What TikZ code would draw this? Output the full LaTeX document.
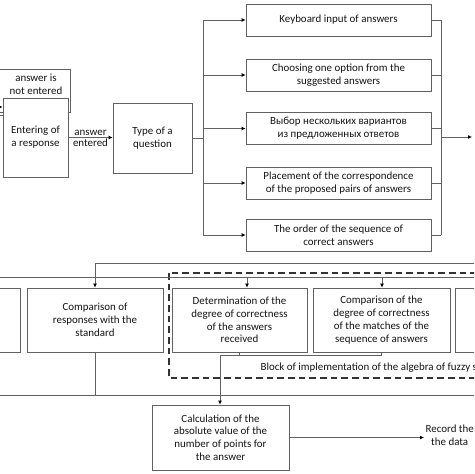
\documentclass[tikz,border=0pt]{standalone}
\usepackage{fontspec}
\setmainfont{Carlito}
\usepackage{tikz}
\usetikzlibrary{arrows.meta}
\definecolor{linegray}{gray}{0.38}
\definecolor{textgray}{gray}{0.08}
\tikzstyle{arrow}=[draw=linegray, line width=0.6pt, >={Latex[length=3pt,width=3pt,black]}]
\tikzstyle{box}=[draw=linegray, line width=0.6pt, fill=white, align=center, inner sep=0pt, text=textgray]
\tikzstyle{lbl}=[align=center, inner sep=1pt, text=textgray]
\tikzstyle{fuzzyblock}=[draw=black!80, line width=1.1pt, dash pattern=on 5pt off 3pt]

\begin{document}
\begin{tikzpicture}[x=0.75pt, y=-0.75pt, font=\fontsize{8.2}{9.6}\selectfont]
		   \useasboundingbox (0,0) rectangle (474,474);
		   \clip (0,0) rectangle (474,474);
		   % feedback loop of the missing answer
		   \draw[arrow, fill=white] (-30,69) rectangle (70,112);
		   \node[lbl] (nae) at (36,84.5) {answer is\\not entered};
		   \node[box, minimum width=48.75pt, minimum height=59.25pt] (enter) at (35.5,137.5) {Entering of\\a response};
		   \coordinate (in1) at (-5,107);
		   \coordinate (in2) at (-5,115);
		   \draw[arrow, ->] (in1) -- (in1 -| enter.west);
		   \draw[arrow] (in2) -- (in2 -| enter.west);
		   \node[box, minimum width=59.25pt, minimum height=52.5pt] (type) at (152.5,138) {Type of a\\question};
		   \draw[arrow, ->] (enter.east) -- (enter.east -| type.west)
		   	node[midway, lbl, above] {answer}
		   	node[midway, lbl, below] {entered};
		   % kinds of questions
		   \node[box, minimum width=138.75pt, minimum height=24pt] (k1) at (338.5,20) {Keyboard input of answers};
		   \node[box, minimum width=138.75pt, minimum height=24pt] (k2) at (338.5,75) {Choosing one option from the\\suggested answers};
		   \node[box, minimum width=138.75pt, minimum height=24pt] (k3) at (338.5,128.5) {Выбор нескольких вариантов\\из предложенных ответов};
		   \node[box, minimum width=138.75pt, minimum height=24pt] (k4) at (338.5,183) {Placement of the correspondence\\of the proposed pairs of answers};
		   \node[box, minimum width=138.75pt, minimum height=24pt] (k5) at (338.5,235) {The order of the sequence of\\correct answers};
		   \coordinate (bx) at (203,0);
		   \coordinate (by) at (441,0);
		   \draw[arrow] (type.east) -- (type.east -| bx);
		   \draw[arrow] (bx |- k1.west) -- (bx |- k5.west);
		   \draw[arrow] (by |- k1.east) -- (by |- k5.east);
		   \foreach \i in {1,...,5} {
		   	\draw[arrow, ->] (bx |- k\i.west) -- (k\i.west);
		   	\draw[arrow] (k\i.east) -- (by |- k\i.east);
		   }
		   \coordinate (out) at (472,137);
		   \draw[arrow, ->] (by |- out) -- (out);
		   % checking of the answers
		   \draw[fuzzyblock] (169,273) rectangle (490,378);
		   \node[box, minimum width=60pt, minimum height=48pt] (left) at (-20,320) {};
		   \node[box, minimum width=102pt, minimum height=48pt] (cmp) at (95,320) {Comparison of\\responses with the\\standard};
		   \node[box, minimum width=101.25pt, minimum height=48pt] (det) at (239.5,320) {Determination of the\\degree of correctness\\of the answers\\received};
		   \node[box, minimum width=102.75pt, minimum height=48pt] (cmps) at (381.5,320) {Comparison of the\\degree of correctness\\of the matches of the\\sequence of answers};
		   \node[box, minimum width=78.75pt, minimum height=48pt] (right) at (507.5,320) {};
		   \node[lbl, anchor=west] (blk) at (259,368) {Block of implementation of the algebra of fuzzy sets};
		   \coordinate (r1) at (490,263);
		   \draw[arrow, ->] (r1) -- (r1 -| cmp.north) -- (cmp.north);
		   \coordinate (b2l) at (-10,277);
		   \coordinate (b2r) at (490,277);
		   \draw[arrow] (b2l) -- (b2r);
		   \coordinate (da) at (247,277);
		   \coordinate (ca) at (382,277);
		   \draw[arrow, ->] (da) -- (da |- det.north);
		   \draw[arrow, ->] (ca) -- (ca |- cmps.north);
		   \coordinate (b3l) at (-10,395);
		   \coordinate (b3r) at (490,395);
		   \draw[arrow] (b3l) -- (b3r);
		   \draw[arrow] (cmp.south) -- (cmp.south |- b3l);
		   % points for the answer
		   \node[box, minimum width=102.75pt, minimum height=48.75pt] (calc) at (220.5,437.5) {Calculation of the\\absolute value of the\\number of points for\\the answer};
		   \coordinate (mj) at (220,355);
		   \draw[arrow] (det.south) -- (det.south |- mj);
		   \draw[arrow] (cmps.south) -- (cmps.south |- mj);
		   \draw[arrow] (mj) -- (mj -| cmps.south);
		   \draw[arrow, ->] (mj) -- (mj |- calc.north);
		   \node[lbl, anchor=west] (rec) at (424,435) {Record the\\the data};
		   \draw[arrow, ->] (calc.east) -- (calc.east -| rec.west);
	   \end{tikzpicture}
\end{document}
